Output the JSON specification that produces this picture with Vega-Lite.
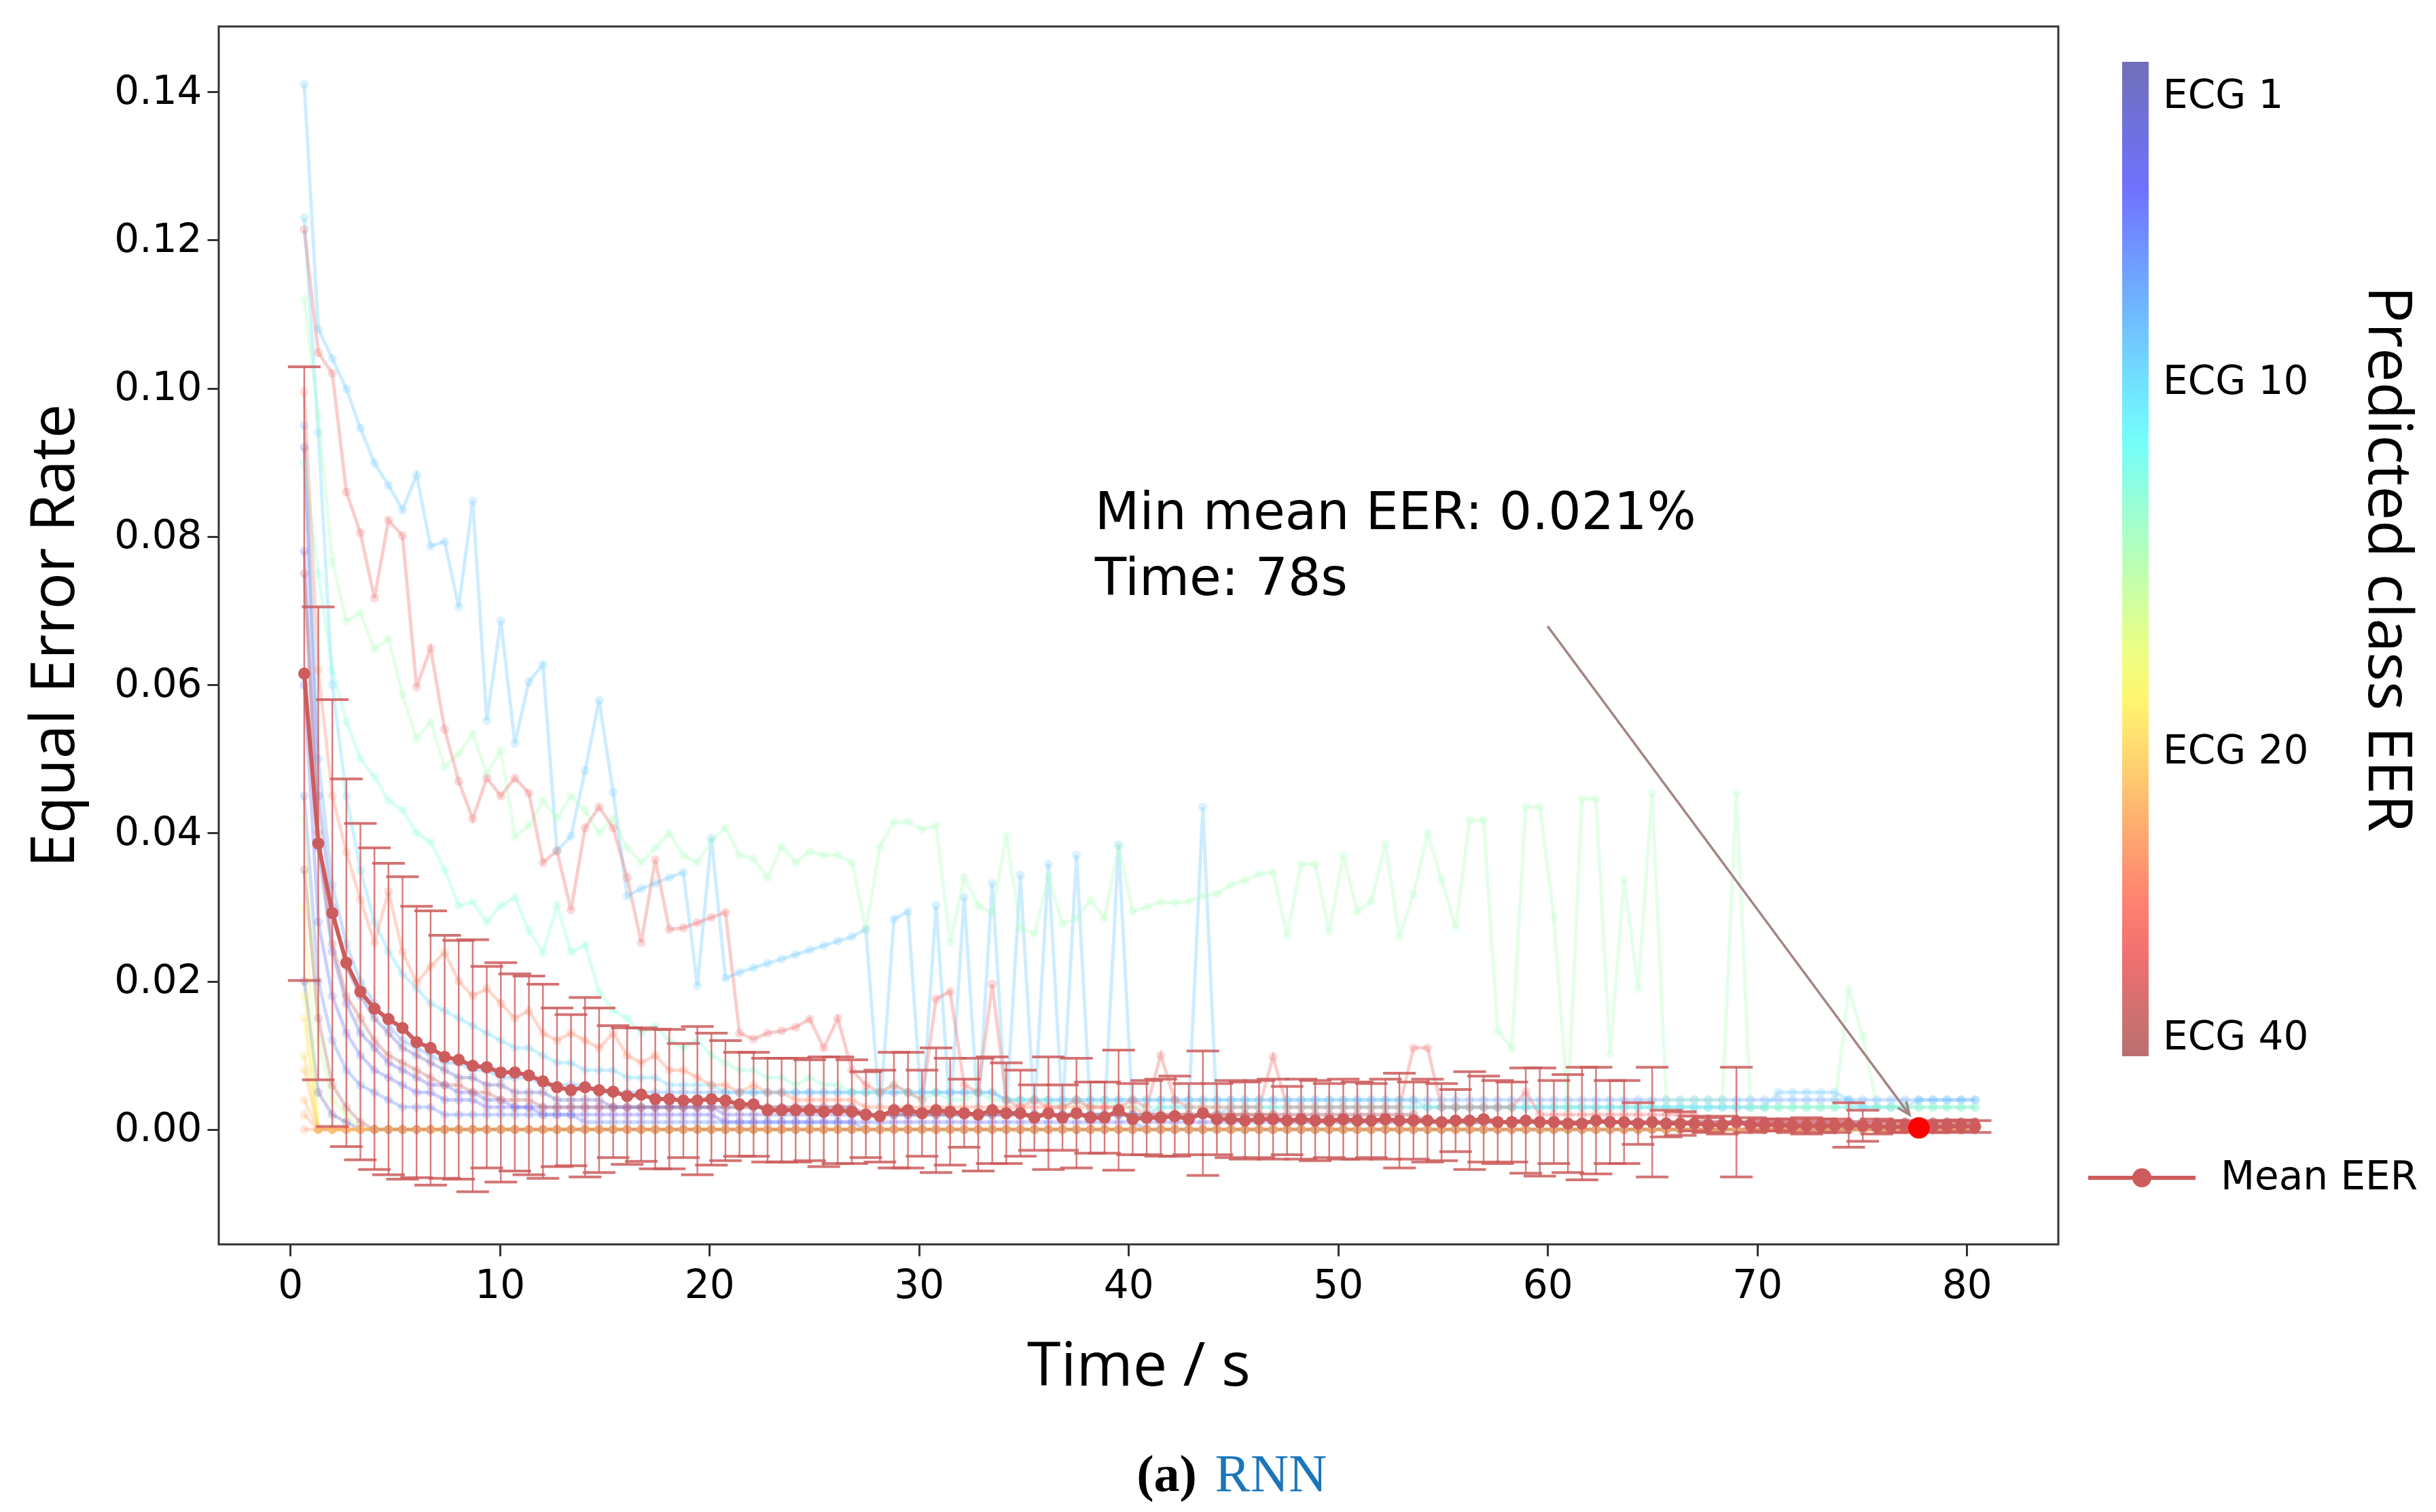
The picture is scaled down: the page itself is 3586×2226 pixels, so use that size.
{
"$schema": "https://vega.github.io/schema/vega-lite/v6.json",
"width": 2708, "height": 1793,
"autosize": {"type": "none"},
"padding": {"left": 322, "top": 39, "right": 556, "bottom": 394},
"background": "white",
"config": {
 "view": {"stroke": "#333333", "strokeWidth": 3},
 "axis": {"grid": false, "domain": false, "tickColor": "#333333", "tickWidth": 3, "tickSize": 17, "labelFont": "DejaVu Sans", "labelFontSize": 58, "labelColor": "black", "titleFont": "Open Sans", "titleFontSize": 90, "titleFontWeight": "normal", "titleColor": "black"}
},
"datasets": {
"ecg": [
{"e":1,"t":[0.67,1.34,2.01,2.68,3.35,4.02,4.69,5.36,6.03,6.7,7.37,8.04,8.71,9.38,10.05,10.72,11.39,12.06,12.73,13.4,14.07,14.74,15.41,16.08,16.75,17.42,18.09,18.76,19.43,20.1,20.77,21.44,22.11,22.78,23.45,24.12,24.79,25.46,26.13,26.8,27.47,28.14,28.81,29.48,30.15,30.82,31.49,32.16,32.83,33.5,34.17,34.84,35.51,36.18,36.85,37.52,38.19,38.86,39.53,40.2,40.87,41.54,42.21,42.88,43.55,44.22,44.89,45.56,46.23,46.9,47.57,48.24,48.91,49.58,50.25,50.92,51.59,52.26,52.93,53.6,54.27,54.94,55.61,56.28,56.95,57.62,58.29,58.96,59.63,60.3,60.97,61.64,62.31,62.98,63.65,64.32,64.99,65.66,66.33,67,67.67,68.34,69.01,69.68,70.35,71.02,71.69,72.36,73.03,73.7,74.37,75.04,75.71,76.38,77.05,77.72,78.39,79.06,79.73,80.4],
 "v":[0.02,0.005,0.002,0.001,0,0,0,0,0,0,0,0,0,0,0,0,0,0,0,0,0,0,0,0,0,0,0,0,0,0,0,0,0,0,0,0,0,0,0,0,0,0,0,0,0,0,0,0,0,0,0,0,0,0,0,0,0,0,0,0,0,0,0,0,0,0,0,0,0,0,0,0,0,0,0,0,0,0,0,0,0,0,0,0,0,0,0,0,0,0,0,0,0,0,0,0,0,0,0,0,0,0,0,0,0,0,0,0,0,0,0,0,0,0,0,0,0,0,0,0]},
{"e":2,"t":[0.67,1.34,2.01,2.68,3.35,4.02,4.69,5.36,6.03,6.7,7.37,8.04,8.71,9.38,10.05,10.72,11.39,12.06,12.73,13.4,14.07,14.74,15.41,16.08,16.75,17.42,18.09,18.76,19.43,20.1,20.77,21.44,22.11,22.78,23.45,24.12,24.79,25.46,26.13,26.8,27.47,28.14,28.81,29.48,30.15,30.82,31.49,32.16,32.83,33.5,34.17,34.84,35.51,36.18,36.85,37.52,38.19,38.86,39.53,40.2,40.87,41.54,42.21,42.88,43.55,44.22,44.89,45.56,46.23,46.9,47.57,48.24,48.91,49.58,50.25,50.92,51.59,52.26,52.93,53.6,54.27,54.94,55.61,56.28,56.95,57.62,58.29,58.96,59.63,60.3,60.97,61.64,62.31,62.98,63.65,64.32,64.99,65.66,66.33,67,67.67,68.34,69.01,69.68,70.35,71.02,71.69,72.36,73.03,73.7,74.37,75.04,75.71,76.38,77.05,77.72,78.39,79.06,79.73,80.4],
 "v":[0.092,0.045,0.03,0.022,0.018,0.015,0.013,0.011,0.01,0.009,0.008,0.007,0.007,0.006,0.006,0.005,0.005,0.005,0.004,0.004,0.004,0.004,0.003,0.003,0.003,0.003,0.003,0.003,0.003,0.003,0.003,0.003,0.003,0.003,0.003,0.003,0.003,0.003,0.003,0.003,0.002,0.002,0.002,0.002,0.002,0.002,0.002,0.002,0.002,0.002,0.002,0.002,0.002,0.002,0.002,0.002,0.002,0.002,0.002,0.002,0.002,0.002,0.002,0.002,0.002,0.002,0.002,0.002,0.002,0.002,0.002,0.002,0.002,0.002,0.002,0.002,0.002,0.002,0.002,0.002,0.001,0.001,0.001,0.001,0.001,0.001,0.001,0.001,0.001,0.001,0.001,0.001,0.001,0.001,0.001,0.001,0.001,0.001,0.001,0.001,0.001,0.001,0.001,0.001,0.001,0.001,0.001,0.001,0.001,0.001,0.001,0.001,0.001,0.001,0.001,0.001,0.001,0.001,0.001,0.001]},
{"e":4,"t":[0.67,1.34,2.01,2.68,3.35,4.02,4.69,5.36,6.03,6.7,7.37,8.04,8.71,9.38,10.05,10.72,11.39,12.06,12.73,13.4,14.07,14.74,15.41,16.08,16.75,17.42,18.09,18.76,19.43,20.1,20.77,21.44,22.11,22.78,23.45,24.12,24.79,25.46,26.13,26.8,27.47,28.14,28.81,29.48,30.15,30.82,31.49,32.16,32.83,33.5,34.17,34.84,35.51,36.18,36.85,37.52,38.19,38.86,39.53,40.2,40.87,41.54,42.21,42.88,43.55,44.22,44.89,45.56,46.23,46.9,47.57,48.24,48.91,49.58,50.25,50.92,51.59,52.26,52.93,53.6,54.27,54.94,55.61,56.28,56.95,57.62,58.29,58.96,59.63,60.3,60.97,61.64,62.31,62.98,63.65,64.32,64.99,65.66,66.33,67,67.67,68.34,69.01,69.68,70.35,71.02,71.69,72.36,73.03,73.7,74.37,75.04,75.71,76.38,77.05,77.72,78.39,79.06,79.73,80.4],
 "v":[0.078,0.038,0.024,0.017,0.013,0.011,0.009,0.008,0.007,0.006,0.006,0.005,0.005,0.004,0.004,0.003,0.003,0.003,0.003,0.003,0.003,0.003,0.003,0.003,0.003,0.003,0.003,0.003,0.003,0.003,0.002,0.002,0.002,0.002,0.002,0.002,0.002,0.002,0.002,0.002,0.002,0.002,0.002,0.002,0.002,0.002,0.002,0.002,0.002,0.002,0.002,0.002,0.002,0.002,0.002,0.002,0.002,0.002,0.002,0.002,0.001,0.001,0.001,0.001,0.001,0.001,0.001,0.001,0.001,0.001,0.001,0.001,0.001,0.001,0.001,0.001,0.001,0.001,0.001,0.001,0.001,0.001,0.001,0.001,0.001,0.001,0.001,0.001,0.001,0.001,0.001,0.001,0.001,0.001,0.001,0.001,0.001,0.001,0.001,0.001,0.001,0.001,0.001,0.001,0.001,0.001,0.001,0.001,0.001,0.001,0.001,0.001,0.001,0.001,0.001,0.001,0.001,0.001,0.001,0.001]},
{"e":6,"t":[0.67,1.34,2.01,2.68,3.35,4.02,4.69,5.36,6.03,6.7,7.37,8.04,8.71,9.38,10.05,10.72,11.39,12.06,12.73,13.4,14.07,14.74,15.41,16.08,16.75,17.42,18.09,18.76,19.43,20.1,20.77,21.44,22.11,22.78,23.45,24.12,24.79,25.46,26.13,26.8,27.47,28.14,28.81,29.48,30.15,30.82,31.49,32.16,32.83,33.5,34.17,34.84,35.51,36.18,36.85,37.52,38.19,38.86,39.53,40.2,40.87,41.54,42.21,42.88,43.55,44.22,44.89,45.56,46.23,46.9,47.57,48.24,48.91,49.58,50.25,50.92,51.59,52.26,52.93,53.6,54.27,54.94,55.61,56.28,56.95,57.62,58.29,58.96,59.63,60.3,60.97,61.64,62.31,62.98,63.65,64.32,64.99,65.66,66.33,67,67.67,68.34,69.01,69.68,70.35,71.02,71.69,72.36,73.03,73.7,74.37,75.04,75.71,76.38,77.05,77.72,78.39,79.06,79.73,80.4],
 "v":[0.06,0.028,0.018,0.013,0.01,0.008,0.007,0.006,0.005,0.005,0.004,0.004,0.004,0.003,0.003,0.003,0.003,0.002,0.002,0.002,0.002,0.002,0.002,0.002,0.002,0.002,0.002,0.002,0.002,0.002,0.001,0.001,0.001,0.001,0.001,0.001,0.001,0.001,0.001,0.001,0.001,0.001,0.001,0.001,0.001,0.001,0.001,0.001,0.001,0.001,0.001,0.001,0.001,0.001,0.001,0.001,0.001,0.001,0.001,0.001,0,0,0,0,0,0,0,0,0,0,0,0,0,0,0,0,0,0,0,0,0,0,0,0,0,0,0,0,0,0,0,0,0,0,0,0,0,0,0,0,0,0,0,0,0,0,0,0,0,0,0,0,0,0,0,0,0,0,0,0]},
{"e":8,"t":[0.67,1.34,2.01,2.68,3.35,4.02,4.69,5.36,6.03,6.7,7.37,8.04,8.71,9.38,10.05,10.72,11.39,12.06,12.73,13.4,14.07,14.74,15.41,16.08,16.75,17.42,18.09,18.76,19.43,20.1,20.77,21.44,22.11,22.78,23.45,24.12,24.79,25.46,26.13,26.8,27.47,28.14,28.81,29.48,30.15,30.82,31.49,32.16,32.83,33.5,34.17,34.84,35.51,36.18,36.85,37.52,38.19,38.86,39.53,40.2,40.87,41.54,42.21,42.88,43.55,44.22,44.89,45.56,46.23,46.9,47.57,48.24,48.91,49.58,50.25,50.92,51.59,52.26,52.93,53.6,54.27,54.94,55.61,56.28,56.95,57.62,58.29,58.96,59.63,60.3,60.97,61.64,62.31,62.98,63.65,64.32,64.99,65.66,66.33,67,67.67,68.34,69.01,69.68,70.35,71.02,71.69,72.36,73.03,73.7,74.37,75.04,75.71,76.38,77.05,77.72,78.39,79.06,79.73,80.4],
 "v":[0.045,0.02,0.012,0.008,0.006,0.005,0.004,0.003,0.003,0.003,0.002,0.002,0.002,0.002,0.002,0.002,0.002,0.002,0.002,0.002,0.001,0.001,0.001,0.001,0.001,0.001,0.001,0.001,0.001,0.001,0.001,0.001,0.001,0.001,0.001,0.001,0.001,0.001,0.001,0.001,0,0,0,0,0,0,0,0,0,0,0,0,0,0,0,0,0,0,0,0,0,0,0,0,0,0,0,0,0,0,0,0,0,0,0,0,0,0,0,0,0,0,0,0,0,0,0,0,0,0,0,0,0,0,0,0,0,0,0,0,0,0,0,0,0,0,0,0,0,0,0,0,0,0,0,0,0,0,0,0]},
{"e":10,"t":[0.67,1.34,2.01,2.68,3.35,4.02,4.69,5.36,6.03,6.7,7.37,8.04,8.71,9.38,10.05,10.72,11.39,12.06,12.73,13.4,14.07,14.74,15.41,16.08,16.75,17.42,18.09,18.76,19.43,20.1,20.77,21.44,22.11,22.78,23.45,24.12,24.79,25.46,26.13,26.8,27.47,28.14,28.81,29.48,30.15,30.82,31.49,32.16,32.83,33.5,34.17,34.84,35.51,36.18,36.85,37.52,38.19,38.86,39.53,40.2,40.87,41.54,42.21,42.88,43.55,44.22,44.89,45.56,46.23,46.9,47.57,48.24,48.91,49.58,50.25,50.92,51.59,52.26,52.93,53.6,54.27,54.94,55.61,56.28,56.95,57.62,58.29,58.96,59.63,60.3,60.97,61.64,62.31,62.98,63.65,64.32,64.99,65.66,66.33,67,67.67,68.34,69.01,69.68,70.35,71.02,71.69,72.36,73.03,73.7,74.37,75.04,75.71,76.38,77.05,77.72,78.39,79.06,79.73,80.4],
 "v":[0.095,0.05,0.033,0.025,0.02,0.017,0.014,0.012,0.011,0.01,0.009,0.009,0.008,0.008,0.007,0.007,0.007,0.006,0.006,0.006,0.006,0.005,0.005,0.005,0.005,0.005,0.005,0.005,0.005,0.005,0.005,0.005,0.005,0.005,0.005,0.005,0.005,0.005,0.005,0.005,0.005,0.005,0.005,0.005,0.005,0.005,0.005,0.005,0.005,0.005,0.004,0.004,0.004,0.004,0.004,0.004,0.004,0.004,0.004,0.004,0.004,0.004,0.004,0.004,0.004,0.004,0.004,0.004,0.004,0.004,0.004,0.004,0.004,0.004,0.004,0.004,0.004,0.004,0.004,0.004,0.004,0.004,0.004,0.004,0.004,0.004,0.004,0.004,0.004,0.004,0.004,0.004,0.004,0.004,0.004,0.004,0.004,0.004,0.004,0.004,0.004,0.004,0.004,0.004,0.004,0.004,0.004,0.004,0.004,0.004,0.004,0.004,0.004,0.004,0.004,0.004,0.004,0.004,0.004,0.004]},
{"e":12,"t":[0.67,1.34,2.01,2.68,3.35,4.02,4.69,5.36,6.03,6.7,7.37,8.04,8.71,9.38,10.05,10.72,11.39,12.06,12.73,13.4,14.07,14.74,15.41,16.08,16.75,17.42,18.09,18.76,19.43,20.1,20.77,21.44,22.11,22.78,23.45,24.12,24.79,25.46,26.13,26.8,27.47,28.14,28.81,29.48,30.15,30.82,31.49,32.16,32.83,33.5,34.17,34.84,35.51,36.18,36.85,37.52,38.19,38.86,39.53,40.2,40.87,41.54,42.21,42.88,43.55,44.22,44.89,45.56,46.23,46.9,47.57,48.24,48.91,49.58,50.25,50.92,51.59,52.26,52.93,53.6,54.27,54.94,55.61,56.28,56.95,57.62,58.29,58.96,59.63,60.3,60.97,61.64,62.31,62.98,63.65,64.32,64.99,65.66,66.33,67,67.67,68.34,69.01,69.68,70.35,71.02,71.69,72.36,73.03,73.7,74.37,75.04,75.71,76.38,77.05,77.72,78.39,79.06,79.73,80.4],
 "v":[0.141,0.108,0.104,0.0999,0.0946,0.0899,0.0869,0.0836,0.0883,0.0787,0.0793,0.0705,0.0848,0.0552,0.0686,0.0521,0.0604,0.0627,0.0376,0.0396,0.0484,0.0579,0.0455,0.0315,0.0325,0.0332,0.034,0.0347,0.0194,0.0393,0.0204,0.0212,0.0218,0.0224,0.023,0.0236,0.0242,0.0248,0.0254,0.026,0.027,0.002,0.0284,0.0294,0.002,0.0302,0.002,0.0313,0.002,0.0332,0.002,0.0343,0.002,0.0358,0.002,0.037,0.002,0.002,0.0384,0.002,0.002,0.003,0.003,0.003,0.0435,0.002,0.003,0.003,0.003,0.003,0.003,0.003,0.003,0.003,0.003,0.003,0.003,0.003,0.003,0.003,0.003,0.003,0.003,0.003,0.003,0.003,0.003,0.003,0.003,0.003,0.003,0.003,0.003,0.003,0.003,0.003,0.003,0.003,0.003,0.003,0.003,0.003,0.003,0.003,0.003,0.005,0.005,0.005,0.005,0.005,0.004,0.003,0.003,0.003,0.003,0.004,0.004,0.004,0.004,0.004]},
{"e":13,"t":[0.67,1.34,2.01,2.68,3.35,4.02,4.69,5.36,6.03,6.7,7.37,8.04,8.71,9.38,10.05,10.72,11.39,12.06,12.73,13.4,14.07,14.74,15.41,16.08,16.75,17.42,18.09,18.76,19.43,20.1,20.77,21.44,22.11,22.78,23.45,24.12,24.79,25.46,26.13,26.8,27.47,28.14,28.81,29.48,30.15,30.82,31.49,32.16,32.83,33.5,34.17,34.84,35.51,36.18,36.85,37.52,38.19,38.86,39.53,40.2,40.87,41.54,42.21,42.88,43.55,44.22,44.89,45.56,46.23,46.9,47.57,48.24,48.91,49.58,50.25,50.92,51.59,52.26,52.93,53.6,54.27,54.94,55.61,56.28,56.95,57.62,58.29,58.96,59.63,60.3,60.97,61.64,62.31,62.98,63.65,64.32,64.99,65.66,66.33,67,67.67,68.34,69.01,69.68,70.35,71.02,71.69,72.36,73.03,73.7,74.37,75.04,75.71,76.38,77.05,77.72,78.39,79.06,79.73,80.4],
 "v":[0.123,0.094,0.06,0.045,0.035,0.028,0.024,0.021,0.019,0.017,0.016,0.015,0.014,0.013,0.012,0.011,0.011,0.01,0.009,0.009,0.008,0.008,0.008,0.007,0.007,0.007,0.006,0.006,0.006,0.006,0.005,0.005,0.005,0.005,0.005,0.005,0.005,0.005,0.005,0.005,0.005,0.005,0.005,0.005,0.005,0.005,0.005,0.005,0.005,0.005,0.004,0.004,0.004,0.004,0.004,0.004,0.004,0.004,0.004,0.004,0.004,0.004,0.004,0.004,0.004,0.004,0.004,0.004,0.004,0.004,0.004,0.004,0.004,0.004,0.004,0.004,0.004,0.004,0.004,0.004,0.003,0.003,0.003,0.003,0.003,0.003,0.003,0.003,0.003,0.003,0.003,0.003,0.003,0.003,0.003,0.003,0.003,0.003,0.003,0.003,0.003,0.003,0.003,0.003,0.003,0.003,0.003,0.003,0.003,0.003,0.003,0.003,0.003,0.003,0.003,0.003,0.003,0.003,0.003,0.003]},
{"e":18,"t":[0.67,1.34,2.01,2.68,3.35,4.02,4.69,5.36,6.03,6.7,7.37,8.04,8.71,9.38,10.05,10.72,11.39,12.06,12.73,13.4,14.07,14.74,15.41,16.08,16.75,17.42,18.09,18.76,19.43,20.1,20.77,21.44,22.11,22.78,23.45,24.12,24.79,25.46,26.13,26.8,27.47,28.14,28.81,29.48,30.15,30.82,31.49,32.16,32.83,33.5,34.17,34.84,35.51,36.18,36.85,37.52,38.19,38.86,39.53,40.2,40.87,41.54,42.21,42.88,43.55,44.22,44.89,45.56,46.23,46.9,47.57,48.24,48.91,49.58,50.25,50.92,51.59,52.26,52.93,53.6,54.27,54.94,55.61,56.28,56.95,57.62,58.29,58.96,59.63,60.3,60.97,61.64,62.31,62.98,63.65,64.32,64.99,65.66,66.33,67,67.67,68.34,69.01,69.68,70.35,71.02,71.69,72.36,73.03,73.7,74.37,75.04,75.71,76.38,77.05,77.72,78.39,79.06,79.73,80.4],
 "v":[0.09,0.075,0.062,0.055,0.05,0.0476,0.0444,0.0431,0.04,0.0388,0.035,0.0302,0.0307,0.028,0.0302,0.0313,0.0268,0.0239,0.0302,0.0239,0.0249,0.0186,0.016,0.015,0.013,0.014,0.012,0.011,0.012,0.01,0.009,0.008,0.008,0.007,0.007,0.006,0.007,0.006,0.006,0.005,0.005,0.005,0.006,0.005,0.004,0.005,0.004,0.004,0.005,0.004,0.004,0.004,0.004,0.004,0.003,0.004,0.003,0.004,0.003,0.003,0.003,0.003,0.003,0.003,0.003,0.003,0.003,0.003,0.003,0.003,0.003,0.003,0.003,0.003,0.003,0.003,0.003,0.003,0.003,0.003,0.003,0.003,0.003,0.003,0.003,0.003,0.003,0.003,0.003,0.003,0.003,0.003,0.003,0.003,0.003,0.003,0.003,0.003,0.003,0.003,0.003,0.003,0.003,0.003,0.003,0.003,0.003,0.003,0.003,0.003,0.003,0.003,0.003,0.003,0.003,0.003,0.003,0.003,0.003,0.003]},
{"e":20,"t":[0.67,1.34,2.01,2.68,3.35,4.02,4.69,5.36,6.03,6.7,7.37,8.04,8.71,9.38,10.05,10.72,11.39,12.06,12.73,13.4,14.07,14.74,15.41,16.08,16.75,17.42,18.09,18.76,19.43,20.1,20.77,21.44,22.11,22.78,23.45,24.12,24.79,25.46,26.13,26.8,27.47,28.14,28.81,29.48,30.15,30.82,31.49,32.16,32.83,33.5,34.17,34.84,35.51,36.18,36.85,37.52,38.19,38.86,39.53,40.2,40.87,41.54,42.21,42.88,43.55,44.22,44.89,45.56,46.23,46.9,47.57,48.24,48.91,49.58,50.25,50.92,51.59,52.26,52.93,53.6,54.27,54.94,55.61,56.28,56.95,57.62,58.29,58.96,59.63,60.3,60.97,61.64,62.31,62.98,63.65,64.32,64.99,65.66,66.33,67,67.67,68.34,69.01,69.68,70.35,71.02,71.69,72.36,73.03,73.7,74.37,75.04,75.71,76.38,77.05,77.72,78.39,79.06,79.73,80.4],
 "v":[0.112,0.0963,0.0766,0.0686,0.0697,0.0648,0.0662,0.0587,0.0527,0.055,0.0489,0.0507,0.0534,0.048,0.0511,0.0395,0.041,0.0444,0.042,0.045,0.043,0.04,0.042,0.038,0.036,0.038,0.04,0.037,0.036,0.039,0.0407,0.037,0.0365,0.034,0.0382,0.036,0.0375,0.037,0.037,0.036,0.027,0.0382,0.0415,0.0415,0.0405,0.041,0.0252,0.034,0.0302,0.0292,0.0396,0.0272,0.0264,0.0341,0.0277,0.0285,0.0309,0.0285,0.0382,0.0294,0.03,0.0307,0.0306,0.0308,0.0315,0.0318,0.033,0.0336,0.0345,0.0347,0.0262,0.0358,0.0358,0.0267,0.037,0.0294,0.0308,0.0385,0.026,0.0317,0.0399,0.0337,0.0272,0.0417,0.0417,0.0133,0.011,0.0435,0.0435,0.0286,0.003,0.0446,0.0446,0.0102,0.0337,0.019,0.0454,0.004,0.004,0.004,0.004,0.004,0.0454,0.003,0.003,0.003,0.003,0.003,0.003,0.003,0.019,0.0126,0.003,0.003,0.003,0.003,0.003,0.003,0.003,0.003]},
{"e":22,"t":[0.67,1.34,2.01,2.68,3.35,4.02,4.69,5.36,6.03,6.7,7.37,8.04,8.71,9.38,10.05,10.72,11.39,12.06,12.73,13.4,14.07,14.74,15.41,16.08,16.75,17.42,18.09,18.76,19.43,20.1,20.77,21.44,22.11,22.78,23.45,24.12,24.79,25.46,26.13,26.8,27.47,28.14,28.81,29.48,30.15,30.82,31.49,32.16,32.83,33.5,34.17,34.84,35.51,36.18,36.85,37.52,38.19,38.86,39.53,40.2,40.87,41.54,42.21,42.88,43.55,44.22,44.89,45.56,46.23,46.9,47.57,48.24,48.91,49.58,50.25,50.92,51.59,52.26,52.93,53.6,54.27,54.94,55.61,56.28,56.95,57.62,58.29,58.96,59.63,60.3,60.97,61.64,62.31,62.98,63.65,64.32,64.99,65.66,66.33,67,67.67,68.34,69.01,69.68,70.35,71.02,71.69,72.36,73.03,73.7,74.37,75.04,75.71,76.38,77.05,77.72,78.39,79.06,79.73,80.4],
 "v":[0.042,0.012,0.004,0.002,0,0,0,0,0,0,0,0,0,0,0,0,0,0,0,0,0,0,0,0,0,0,0,0,0,0,0,0,0,0,0,0,0,0,0,0,0,0,0,0,0,0,0,0,0,0,0,0,0,0,0,0,0,0,0,0,0,0,0,0,0,0,0,0,0,0,0,0,0,0,0,0,0,0,0,0,0,0,0,0,0,0,0,0,0,0,0,0,0,0,0,0,0,0,0,0,0,0,0,0,0,0,0,0,0,0,0,0,0,0,0,0,0,0,0,0]},
{"e":24,"t":[0.67,1.34,2.01,2.68,3.35,4.02,4.69,5.36,6.03,6.7,7.37,8.04,8.71,9.38,10.05,10.72,11.39,12.06,12.73,13.4,14.07,14.74,15.41,16.08,16.75,17.42,18.09,18.76,19.43,20.1,20.77,21.44,22.11,22.78,23.45,24.12,24.79,25.46,26.13,26.8,27.47,28.14,28.81,29.48,30.15,30.82,31.49,32.16,32.83,33.5,34.17,34.84,35.51,36.18,36.85,37.52,38.19,38.86,39.53,40.2,40.87,41.54,42.21,42.88,43.55,44.22,44.89,45.56,46.23,46.9,47.57,48.24,48.91,49.58,50.25,50.92,51.59,52.26,52.93,53.6,54.27,54.94,55.61,56.28,56.95,57.62,58.29,58.96,59.63,60.3,60.97,61.64,62.31,62.98,63.65,64.32,64.99,65.66,66.33,67,67.67,68.34,69.01,69.68,70.35,71.02,71.69,72.36,73.03,73.7,74.37,75.04,75.71,76.38,77.05,77.72,78.39,79.06,79.73,80.4],
 "v":[0.03,0,0,0,0,0,0,0,0,0,0,0,0,0,0,0,0,0,0,0,0,0,0,0,0,0,0,0,0,0,0,0,0,0,0,0,0,0,0,0,0,0,0,0,0,0,0,0,0,0,0,0,0,0,0,0,0,0,0,0,0,0,0,0,0,0,0,0,0,0,0,0,0,0,0,0,0,0,0,0,0,0,0,0,0,0,0,0,0,0,0,0,0,0,0,0,0,0,0,0,0,0,0,0,0,0,0,0,0,0,0,0,0,0,0,0,0,0,0,0]},
{"e":26,"t":[0.67,1.34,2.01,2.68,3.35,4.02,4.69,5.36,6.03,6.7,7.37,8.04,8.71,9.38,10.05,10.72,11.39,12.06,12.73,13.4,14.07,14.74,15.41,16.08,16.75,17.42,18.09,18.76,19.43,20.1,20.77,21.44,22.11,22.78,23.45,24.12,24.79,25.46,26.13,26.8,27.47,28.14,28.81,29.48,30.15,30.82,31.49,32.16,32.83,33.5,34.17,34.84,35.51,36.18,36.85,37.52,38.19,38.86,39.53,40.2,40.87,41.54,42.21,42.88,43.55,44.22,44.89,45.56,46.23,46.9,47.57,48.24,48.91,49.58,50.25,50.92,51.59,52.26,52.93,53.6,54.27,54.94,55.61,56.28,56.95,57.62,58.29,58.96,59.63,60.3,60.97,61.64,62.31,62.98,63.65,64.32,64.99,65.66,66.33,67,67.67,68.34,69.01,69.68,70.35,71.02,71.69,72.36,73.03,73.7,74.37,75.04,75.71,76.38,77.05,77.72,78.39,79.06,79.73,80.4],
 "v":[0.018,0,0,0,0,0,0,0,0,0,0,0,0,0,0,0,0,0,0,0,0,0,0,0,0,0,0,0,0,0,0,0,0,0,0,0,0,0,0,0,0,0,0,0,0,0,0,0,0,0,0,0,0,0,0,0,0,0,0,0,0,0,0,0,0,0,0,0,0,0,0,0,0,0,0,0,0,0,0,0,0,0,0,0,0,0,0,0,0,0,0,0,0,0,0,0,0,0,0,0,0,0,0,0,0,0,0,0,0,0,0,0,0,0,0,0,0,0,0,0]},
{"e":27,"t":[0.67,1.34,2.01,2.68,3.35,4.02,4.69,5.36,6.03,6.7,7.37,8.04,8.71,9.38,10.05,10.72,11.39,12.06,12.73,13.4,14.07,14.74,15.41,16.08,16.75,17.42,18.09,18.76,19.43,20.1,20.77,21.44,22.11,22.78,23.45,24.12,24.79,25.46,26.13,26.8,27.47,28.14,28.81,29.48,30.15,30.82,31.49,32.16,32.83,33.5,34.17,34.84,35.51,36.18,36.85,37.52,38.19,38.86,39.53,40.2,40.87,41.54,42.21,42.88,43.55,44.22,44.89,45.56,46.23,46.9,47.57,48.24,48.91,49.58,50.25,50.92,51.59,52.26,52.93,53.6,54.27,54.94,55.61,56.28,56.95,57.62,58.29,58.96,59.63,60.3,60.97,61.64,62.31,62.98,63.65,64.32,64.99,65.66,66.33,67,67.67,68.34,69.01,69.68,70.35,71.02,71.69,72.36,73.03,73.7,74.37,75.04,75.71,76.38,77.05,77.72,78.39,79.06,79.73,80.4],
 "v":[0.015,0,0,0,0,0,0,0,0,0,0,0,0,0,0,0,0,0,0,0,0,0,0,0,0,0,0,0,0,0,0,0,0,0,0,0,0,0,0,0,0,0,0,0,0,0,0,0,0,0,0,0,0,0,0,0,0,0,0,0,0,0,0,0,0,0,0,0,0,0,0,0,0,0,0,0,0,0,0,0,0,0,0,0,0,0,0,0,0,0,0,0,0,0,0,0,0,0,0,0,0,0,0,0,0,0,0,0,0,0,0,0,0,0,0,0,0,0,0,0]},
{"e":28,"t":[0.67,1.34,2.01,2.68,3.35,4.02,4.69,5.36,6.03,6.7,7.37,8.04,8.71,9.38,10.05,10.72,11.39,12.06,12.73,13.4,14.07,14.74,15.41,16.08,16.75,17.42,18.09,18.76,19.43,20.1,20.77,21.44,22.11,22.78,23.45,24.12,24.79,25.46,26.13,26.8,27.47,28.14,28.81,29.48,30.15,30.82,31.49,32.16,32.83,33.5,34.17,34.84,35.51,36.18,36.85,37.52,38.19,38.86,39.53,40.2,40.87,41.54,42.21,42.88,43.55,44.22,44.89,45.56,46.23,46.9,47.57,48.24,48.91,49.58,50.25,50.92,51.59,52.26,52.93,53.6,54.27,54.94,55.61,56.28,56.95,57.62,58.29,58.96,59.63,60.3,60.97,61.64,62.31,62.98,63.65,64.32,64.99,65.66,66.33,67,67.67,68.34,69.01,69.68,70.35,71.02,71.69,72.36,73.03,73.7,74.37,75.04,75.71,76.38,77.05,77.72,78.39,79.06,79.73,80.4],
 "v":[0.01,0,0,0,0,0,0,0,0,0,0,0,0,0,0,0,0,0,0,0,0,0,0,0,0,0,0,0,0,0,0,0,0,0,0,0,0,0,0,0,0,0,0,0,0,0,0,0,0,0,0,0,0,0,0,0,0,0,0,0,0,0,0,0,0,0,0,0,0,0,0,0,0,0,0,0,0,0,0,0,0,0,0,0,0,0,0,0,0,0,0,0,0,0,0,0,0,0,0,0,0,0,0,0,0,0,0,0,0,0,0,0,0,0,0,0,0,0,0,0]},
{"e":29,"t":[0.67,1.34,2.01,2.68,3.35,4.02,4.69,5.36,6.03,6.7,7.37,8.04,8.71,9.38,10.05,10.72,11.39,12.06,12.73,13.4,14.07,14.74,15.41,16.08,16.75,17.42,18.09,18.76,19.43,20.1,20.77,21.44,22.11,22.78,23.45,24.12,24.79,25.46,26.13,26.8,27.47,28.14,28.81,29.48,30.15,30.82,31.49,32.16,32.83,33.5,34.17,34.84,35.51,36.18,36.85,37.52,38.19,38.86,39.53,40.2,40.87,41.54,42.21,42.88,43.55,44.22,44.89,45.56,46.23,46.9,47.57,48.24,48.91,49.58,50.25,50.92,51.59,52.26,52.93,53.6,54.27,54.94,55.61,56.28,56.95,57.62,58.29,58.96,59.63,60.3,60.97,61.64,62.31,62.98,63.65,64.32,64.99,65.66,66.33,67,67.67,68.34,69.01,69.68,70.35,71.02,71.69,72.36,73.03,73.7,74.37,75.04,75.71,76.38,77.05,77.72,78.39,79.06,79.73,80.4],
 "v":[0.008,0,0,0,0,0,0,0,0,0,0,0,0,0,0,0,0,0,0,0,0,0,0,0,0,0,0,0,0,0,0,0,0,0,0,0,0,0,0,0,0,0,0,0,0,0,0,0,0,0,0,0,0,0,0,0,0,0,0,0,0,0,0,0,0,0,0,0,0,0,0,0,0,0,0,0,0,0,0,0,0,0,0,0,0,0,0,0,0,0,0,0,0,0,0,0,0,0,0,0,0,0,0,0,0,0,0,0,0,0,0,0,0,0,0,0,0,0,0,0]},
{"e":30,"t":[0.67,1.34,2.01,2.68,3.35,4.02,4.69,5.36,6.03,6.7,7.37,8.04,8.71,9.38,10.05,10.72,11.39,12.06,12.73,13.4,14.07,14.74,15.41,16.08,16.75,17.42,18.09,18.76,19.43,20.1,20.77,21.44,22.11,22.78,23.45,24.12,24.79,25.46,26.13,26.8,27.47,28.14,28.81,29.48,30.15,30.82,31.49,32.16,32.83,33.5,34.17,34.84,35.51,36.18,36.85,37.52,38.19,38.86,39.53,40.2,40.87,41.54,42.21,42.88,43.55,44.22,44.89,45.56,46.23,46.9,47.57,48.24,48.91,49.58,50.25,50.92,51.59,52.26,52.93,53.6,54.27,54.94,55.61,56.28,56.95,57.62,58.29,58.96,59.63,60.3,60.97,61.64,62.31,62.98,63.65,64.32,64.99,65.66,66.33,67,67.67,68.34,69.01,69.68,70.35,71.02,71.69,72.36,73.03,73.7,74.37,75.04,75.71,76.38,77.05,77.72,78.39,79.06,79.73,80.4],
 "v":[0.004,0,0,0,0,0,0,0,0,0,0,0,0,0,0,0,0,0,0,0,0,0,0,0,0,0,0,0,0,0,0,0,0,0,0,0,0,0,0,0,0,0,0,0,0,0,0,0,0,0,0,0,0,0,0,0,0,0,0,0,0,0,0,0,0,0,0,0,0,0,0,0,0,0,0,0,0,0,0,0,0,0,0,0,0,0,0,0,0,0,0,0,0,0,0,0,0,0,0,0,0,0,0,0,0,0,0,0,0,0,0,0,0,0,0,0,0,0,0,0]},
{"e":31,"t":[0.67,1.34,2.01,2.68,3.35,4.02,4.69,5.36,6.03,6.7,7.37,8.04,8.71,9.38,10.05,10.72,11.39,12.06,12.73,13.4,14.07,14.74,15.41,16.08,16.75,17.42,18.09,18.76,19.43,20.1,20.77,21.44,22.11,22.78,23.45,24.12,24.79,25.46,26.13,26.8,27.47,28.14,28.81,29.48,30.15,30.82,31.49,32.16,32.83,33.5,34.17,34.84,35.51,36.18,36.85,37.52,38.19,38.86,39.53,40.2,40.87,41.54,42.21,42.88,43.55,44.22,44.89,45.56,46.23,46.9,47.57,48.24,48.91,49.58,50.25,50.92,51.59,52.26,52.93,53.6,54.27,54.94,55.61,56.28,56.95,57.62,58.29,58.96,59.63,60.3,60.97,61.64,62.31,62.98,63.65,64.32,64.99,65.66,66.33,67,67.67,68.34,69.01,69.68,70.35,71.02,71.69,72.36,73.03,73.7,74.37,75.04,75.71,76.38,77.05,77.72,78.39,79.06,79.73,80.4],
 "v":[0.002,0,0,0,0,0,0,0,0,0,0,0,0,0,0,0,0,0,0,0,0,0,0,0,0,0,0,0,0,0,0,0,0,0,0,0,0,0,0,0,0,0,0,0,0,0,0,0,0,0,0,0,0,0,0,0,0,0,0,0,0,0,0,0,0,0,0,0,0,0,0,0,0,0,0,0,0,0,0,0,0,0,0,0,0,0,0,0,0,0,0,0,0,0,0,0,0,0,0,0,0,0,0,0,0,0,0,0,0,0,0,0,0,0,0,0,0,0,0,0]},
{"e":32,"t":[0.67,1.34,2.01,2.68,3.35,4.02,4.69,5.36,6.03,6.7,7.37,8.04,8.71,9.38,10.05,10.72,11.39,12.06,12.73,13.4,14.07,14.74,15.41,16.08,16.75,17.42,18.09,18.76,19.43,20.1,20.77,21.44,22.11,22.78,23.45,24.12,24.79,25.46,26.13,26.8,27.47,28.14,28.81,29.48,30.15,30.82,31.49,32.16,32.83,33.5,34.17,34.84,35.51,36.18,36.85,37.52,38.19,38.86,39.53,40.2,40.87,41.54,42.21,42.88,43.55,44.22,44.89,45.56,46.23,46.9,47.57,48.24,48.91,49.58,50.25,50.92,51.59,52.26,52.93,53.6,54.27,54.94,55.61,56.28,56.95,57.62,58.29,58.96,59.63,60.3,60.97,61.64,62.31,62.98,63.65,64.32,64.99,65.66,66.33,67,67.67,68.34,69.01,69.68,70.35,71.02,71.69,72.36,73.03,73.7,74.37,75.04,75.71,76.38,77.05,77.72,78.39,79.06,79.73,80.4],
 "v":[0,0,0,0,0,0,0,0,0,0,0,0,0,0,0,0,0,0,0,0,0,0,0,0,0,0,0,0,0,0,0,0,0,0,0,0,0,0,0,0,0,0,0,0,0,0,0,0,0,0,0,0,0,0,0,0,0,0,0,0,0,0,0,0,0,0,0,0,0,0,0,0,0,0,0,0,0,0,0,0,0,0,0,0,0,0,0,0,0,0,0,0,0,0,0,0,0,0,0,0,0,0,0,0,0,0,0,0,0,0,0,0,0,0,0,0,0,0,0,0]},
{"e":33,"t":[0.67,1.34,2.01,2.68,3.35,4.02,4.69,5.36,6.03,6.7,7.37,8.04,8.71,9.38,10.05,10.72,11.39,12.06,12.73,13.4,14.07,14.74,15.41,16.08,16.75,17.42,18.09,18.76,19.43,20.1,20.77,21.44,22.11,22.78,23.45,24.12,24.79,25.46,26.13,26.8,27.47,28.14,28.81,29.48,30.15,30.82,31.49,32.16,32.83,33.5,34.17,34.84,35.51,36.18,36.85,37.52,38.19,38.86,39.53,40.2,40.87,41.54,42.21,42.88,43.55,44.22,44.89,45.56,46.23,46.9,47.57,48.24,48.91,49.58,50.25,50.92,51.59,52.26,52.93,53.6,54.27,54.94,55.61,56.28,56.95,57.62,58.29,58.96,59.63,60.3,60.97,61.64,62.31,62.98,63.65,64.32,64.99,65.66,66.33,67,67.67,68.34,69.01,69.68,70.35,71.02,71.69,72.36,73.03,73.7,74.37,75.04,75.71,76.38,77.05,77.72,78.39,79.06,79.73,80.4],
 "v":[0.0995,0.062,0.045,0.0374,0.031,0.0252,0.0321,0.024,0.0198,0.022,0.0239,0.02,0.018,0.019,0.017,0.015,0.016,0.013,0.012,0.013,0.012,0.011,0.013,0.01,0.009,0.01,0.008,0.008,0.007,0.006,0.006,0.005,0.006,0.005,0.005,0.004,0.004,0.004,0.004,0.004,0.003,0.003,0.003,0.003,0.003,0.003,0.003,0.003,0.003,0.003,0.003,0.003,0.003,0.003,0.003,0.003,0.003,0.003,0.003,0.003,0.002,0.002,0.002,0.002,0.002,0.002,0.002,0.002,0.002,0.002,0.002,0.002,0.002,0.002,0.002,0.002,0.002,0.002,0.002,0.002,0.001,0.001,0.001,0.001,0.001,0.001,0.001,0.001,0.001,0.001,0.001,0.001,0.001,0.001,0.001,0.001,0.001,0.001,0.001,0.001,0.001,0.001,0.001,0.001,0.001,0.001,0.001,0.001,0.001,0.001,0.001,0.001,0.001,0.001,0.001,0.001,0.001,0.001,0.001,0.001]},
{"e":36,"t":[0.67,1.34,2.01,2.68,3.35,4.02,4.69,5.36,6.03,6.7,7.37,8.04,8.71,9.38,10.05,10.72,11.39,12.06,12.73,13.4,14.07,14.74,15.41,16.08,16.75,17.42,18.09,18.76,19.43,20.1,20.77,21.44,22.11,22.78,23.45,24.12,24.79,25.46,26.13,26.8,27.47,28.14,28.81,29.48,30.15,30.82,31.49,32.16,32.83,33.5,34.17,34.84,35.51,36.18,36.85,37.52,38.19,38.86,39.53,40.2,40.87,41.54,42.21,42.88,43.55,44.22,44.89,45.56,46.23,46.9,47.57,48.24,48.91,49.58,50.25,50.92,51.59,52.26,52.93,53.6,54.27,54.94,55.61,56.28,56.95,57.62,58.29,58.96,59.63,60.3,60.97,61.64,62.31,62.98,63.65,64.32,64.99,65.66,66.33,67,67.67,68.34,69.01,69.68,70.35,71.02,71.69,72.36,73.03,73.7,74.37,75.04,75.71,76.38,77.05,77.72,78.39,79.06,79.73,80.4],
 "v":[0.1214,0.1048,0.102,0.086,0.0805,0.0717,0.0822,0.0801,0.0597,0.0649,0.054,0.047,0.0419,0.0474,0.045,0.0474,0.0454,0.036,0.0376,0.0296,0.0407,0.0435,0.0407,0.034,0.0252,0.0364,0.027,0.0272,0.0279,0.0286,0.0293,0.013,0.0122,0.013,0.0133,0.0138,0.0149,0.011,0.015,0.008,0.006,0.005,0.006,0.005,0.004,0.0176,0.0186,0.006,0.005,0.0196,0.004,0.003,0.004,0.003,0.003,0.004,0.003,0.003,0.003,0.004,0.003,0.01,0.004,0.003,0.003,0.003,0.003,0.003,0.003,0.0098,0.003,0.003,0.003,0.003,0.003,0.003,0.003,0.003,0.003,0.011,0.011,0.003,0.003,0.003,0.003,0.003,0.003,0.0051,0.002,0.002,0.002,0.002,0.002,0.002,0.002,0.002,0.002,0.002,0.002,0.002,0.001,0.001,0.001,0.001,0.001,0.001,0.001,0.001,0.001,0.001,0.001,0.001,0.001,0.001,0.001,0.001,0.001,0.001,0.001,0.001]},
{"e":39,"t":[0.67,1.34,2.01,2.68,3.35,4.02,4.69,5.36,6.03,6.7,7.37,8.04,8.71,9.38,10.05,10.72,11.39,12.06,12.73,13.4,14.07,14.74,15.41,16.08,16.75,17.42,18.09,18.76,19.43,20.1,20.77,21.44,22.11,22.78,23.45,24.12,24.79,25.46,26.13,26.8,27.47,28.14,28.81,29.48,30.15,30.82,31.49,32.16,32.83,33.5,34.17,34.84,35.51,36.18,36.85,37.52,38.19,38.86,39.53,40.2,40.87,41.54,42.21,42.88,43.55,44.22,44.89,45.56,46.23,46.9,47.57,48.24,48.91,49.58,50.25,50.92,51.59,52.26,52.93,53.6,54.27,54.94,55.61,56.28,56.95,57.62,58.29,58.96,59.63,60.3,60.97,61.64,62.31,62.98,63.65,64.32,64.99,65.66,66.33,67,67.67,68.34,69.01,69.68,70.35,71.02,71.69,72.36,73.03,73.7,74.37,75.04,75.71,76.38,77.05,77.72,78.39,79.06,79.73,80.4],
 "v":[0.075,0.04,0.025,0.018,0.015,0.012,0.01,0.009,0.008,0.007,0.006,0.006,0.005,0.005,0.004,0.004,0.004,0.003,0.003,0.003,0.003,0.003,0.003,0.003,0.003,0.003,0.003,0.003,0.003,0.003,0.003,0.003,0.003,0.003,0.003,0.003,0.003,0.003,0.003,0.003,0.002,0.002,0.002,0.002,0.002,0.002,0.002,0.002,0.002,0.002,0.002,0.002,0.002,0.002,0.002,0.002,0.002,0.002,0.002,0.002,0.002,0.002,0.002,0.002,0.002,0.002,0.002,0.002,0.002,0.002,0.001,0.001,0.001,0.001,0.001,0.001,0.001,0.001,0.001,0.001,0.001,0.001,0.001,0.001,0.001,0.001,0.001,0.001,0.001,0.001,0.001,0.001,0.001,0.001,0.001,0.001,0.001,0.001,0.001,0.001,0.001,0.001,0.001,0.001,0.001,0.001,0.001,0.001,0.001,0.001,0.001,0.001,0.001,0.001,0.001,0.001,0.001,0.001,0.001,0.001]},
{"e":40,"t":[0.67,1.34,2.01,2.68,3.35,4.02,4.69,5.36,6.03,6.7,7.37,8.04,8.71,9.38,10.05,10.72,11.39,12.06,12.73,13.4,14.07,14.74,15.41,16.08,16.75,17.42,18.09,18.76,19.43,20.1,20.77,21.44,22.11,22.78,23.45,24.12,24.79,25.46,26.13,26.8,27.47,28.14,28.81,29.48,30.15,30.82,31.49,32.16,32.83,33.5,34.17,34.84,35.51,36.18,36.85,37.52,38.19,38.86,39.53,40.2,40.87,41.54,42.21,42.88,43.55,44.22,44.89,45.56,46.23,46.9,47.57,48.24,48.91,49.58,50.25,50.92,51.59,52.26,52.93,53.6,54.27,54.94,55.61,56.28,56.95,57.62,58.29,58.96,59.63,60.3,60.97,61.64,62.31,62.98,63.65,64.32,64.99,65.66,66.33,67,67.67,68.34,69.01,69.68,70.35,71.02,71.69,72.36,73.03,73.7,74.37,75.04,75.71,76.38,77.05,77.72,78.39,79.06,79.73,80.4],
 "v":[0.035,0.015,0.006,0.003,0.001,0,0,0,0,0,0,0,0,0,0,0,0,0,0,0,0,0,0,0,0,0,0,0,0,0,0,0,0,0,0,0,0,0,0,0,0,0,0,0,0,0,0,0,0,0,0,0,0,0,0,0,0,0,0,0,0,0,0,0,0,0,0,0,0,0,0,0,0,0,0,0,0,0,0,0,0,0,0,0,0,0,0,0,0,0,0,0,0,0,0,0,0,0,0,0,0,0,0,0,0,0,0,0,0,0,0,0,0,0,0,0,0,0,0,0]}
],
"mean": [
{"t":[0.67,1.34,2.01,2.68,3.35,4.02,4.69,5.36,6.03,6.7,7.37,8.04,8.71,9.38,10.05,10.72,11.39,12.06,12.73,13.4,14.07,14.74,15.41,16.08,16.75,17.42,18.09,18.76,19.43,20.1,20.77,21.44,22.11,22.78,23.45,24.12,24.79,25.46,26.13,26.8,27.47,28.14,28.81,29.48,30.15,30.82,31.49,32.16,32.83,33.5,34.17,34.84,35.51,36.18,36.85,37.52,38.19,38.86,39.53,40.2,40.87,41.54,42.21,42.88,43.55,44.22,44.89,45.56,46.23,46.9,47.57,48.24,48.91,49.58,50.25,50.92,51.59,52.26,52.93,53.6,54.27,54.94,55.61,56.28,56.95,57.62,58.29,58.96,59.63,60.3,60.97,61.64,62.31,62.98,63.65,64.32,64.99,65.66,66.33,67,67.67,68.34,69.01,69.68,70.35,71.02,71.69,72.36,73.03,73.7,74.37,75.04,75.71,76.38,77.05,77.72,78.39,79.06,79.73,80.4],
 "m":[0.0615,0.0386,0.0292,0.0225,0.0186,0.0163,0.0149,0.0137,0.0118,0.011,0.0098,0.0094,0.0086,0.0084,0.0077,0.0077,0.0073,0.0065,0.0057,0.0053,0.0057,0.0053,0.0051,0.0045,0.0047,0.0041,0.0041,0.0039,0.0039,0.0041,0.0039,0.0034,0.0034,0.0026,0.0026,0.0026,0.0026,0.0024,0.0026,0.0024,0.002,0.0018,0.0026,0.0026,0.0022,0.0026,0.0024,0.0022,0.002,0.0026,0.0022,0.0022,0.0016,0.0022,0.0016,0.0022,0.0016,0.0016,0.0026,0.0014,0.0016,0.0016,0.0018,0.0014,0.0022,0.0014,0.0014,0.0012,0.0014,0.0014,0.0012,0.0014,0.0012,0.0012,0.0014,0.0012,0.0012,0.0014,0.0012,0.0012,0.0012,0.001,0.0012,0.0012,0.0014,0.001,0.001,0.0012,0.001,0.001,0.0008,0.0008,0.0012,0.001,0.001,0.0008,0.001,0.0008,0.0008,0.0008,0.0006,0.0006,0.001,0.0006,0.0006,0.0006,0.0005,0.0005,0.0005,0.0005,0.0006,0.0005,0.0004,0.0004,0.0004,0.00021,0.0004,0.0004,0.0005,0.0004],
 "hi":[0.1029,0.0705,0.058,0.0473,0.0413,0.038,0.0359,0.0341,0.0301,0.0295,0.0262,0.0255,0.0256,0.022,0.0225,0.021,0.0207,0.0196,0.0164,0.0155,0.0178,0.0164,0.014,0.0137,0.0137,0.0135,0.0135,0.0116,0.0139,0.013,0.012,0.0104,0.0104,0.0096,0.0096,0.0096,0.0094,0.0098,0.0098,0.0094,0.0078,0.008,0.0104,0.0104,0.008,0.011,0.0096,0.0068,0.0096,0.0098,0.009,0.008,0.006,0.0098,0.006,0.0096,0.0064,0.0064,0.0107,0.0062,0.0066,0.0068,0.0072,0.0062,0.0106,0.0062,0.0066,0.0064,0.0066,0.0068,0.0058,0.0068,0.0066,0.0062,0.0068,0.0064,0.0062,0.0068,0.0076,0.0064,0.0068,0.0062,0.0054,0.0078,0.0072,0.0066,0.0064,0.0083,0.0083,0.0066,0.0074,0.0084,0.0084,0.0066,0.0066,0.0036,0.0084,0.0026,0.0024,0.0018,0.0016,0.0018,0.0084,0.0016,0.0014,0.0014,0.0014,0.0016,0.0014,0.0014,0.0036,0.0026,0.0014,0.0012,0.0012,0.0006,0.0012,0.0012,0.0013,0.0012],
 "lo":[0.0201,0.0067,0.0004,-0.0023,-0.0041,-0.0054,-0.0061,-0.0067,-0.0065,-0.0075,-0.0066,-0.0067,-0.0084,-0.0052,-0.0071,-0.0056,-0.0061,-0.0066,-0.005,-0.0049,-0.0064,-0.0058,-0.0038,-0.0047,-0.0043,-0.0053,-0.0053,-0.0038,-0.0061,-0.0048,-0.0042,-0.0036,-0.0036,-0.0044,-0.0044,-0.0044,-0.0042,-0.005,-0.0046,-0.0046,-0.0038,-0.0044,-0.0052,-0.0052,-0.0036,-0.0058,-0.0048,-0.0024,-0.0056,-0.0046,-0.0046,-0.0036,-0.0028,-0.0054,-0.0028,-0.0052,-0.0032,-0.0032,-0.0055,-0.0034,-0.0034,-0.0036,-0.0036,-0.0034,-0.0062,-0.0034,-0.0038,-0.004,-0.0038,-0.004,-0.0034,-0.004,-0.0042,-0.0038,-0.004,-0.004,-0.0038,-0.004,-0.0052,-0.004,-0.0044,-0.0042,-0.003,-0.0054,-0.0044,-0.0046,-0.0044,-0.0059,-0.0063,-0.0046,-0.0058,-0.0068,-0.006,-0.0046,-0.0046,-0.002,-0.0064,-0.001,-0.0008,-0.0002,-0.0004,-0.0006,-0.0064,-0.0004,-0.0002,-0.0002,-0.0004,-0.0006,-0.0004,-0.0004,-0.0024,-0.0016,-0.0006,-0.0004,-0.0004,-0.0002,-0.0004,-0.0004,-0.0003,-0.0004]}
]
},
"layer": [
{"data": {"name": "ecg"}, "transform": [{"flatten": ["t", "v"]}],
 "mark": {"type": "line", "strokeWidth": 5, "strokeOpacity": 0.35},
 "encoding": {
  "x": {"field": "t", "type": "quantitative", "scale": {"domain": [-3.41, 84.37], "nice": false, "zero": false}, "axis": {"values": [0,10,20,30,40,50,60,70,80], "format": "d", "title": "Time / s", "labelPadding": 15, "titlePadding": 46}},
  "y": {"field": "v", "type": "quantitative", "scale": {"domain": [-0.0155, 0.1488], "nice": false, "zero": false}, "axis": {"values": [0,0.02,0.04,0.06,0.08,0.1,0.12,0.14], "format": ".2f", "title": "Equal Error Rate", "labelPadding": 8, "titlePadding": 40}},
  "color": {"field": "e", "type": "quantitative",
   "scale": {"domain": [40, 35.125, 25.375, 20.5, 15.625, 5.875, 1], "range": ["#b87070", "#ff7070", "#ffff70", "#b8ffb8", "#70ffff", "#7070ff", "#7070b8"], "interpolate": "rgb"},
   "legend": {"type": "gradient", "orient": "none", "legendX": 2802, "legendY": 52, "direction": "vertical", "gradientLength": 1464, "gradientThickness": 39, "gradientStrokeWidth": 0, "padding": 0,
     "values": [2.35, 13.57, 28.07, 39.27],
     "labelExpr": "datum.value < 5 ? 'ECG 1' : datum.value < 20 ? 'ECG 10' : datum.value < 30 ? 'ECG 20' : 'ECG 40'",
     "labelFont": "DejaVu Sans", "labelFontSize": 58, "labelColor": "black", "labelOffset": 21, "labelOverlap": false, "labelLimit": 600,
     "title": "Predicted class EER", "titleOrient": "right", "titleAngle": 90, "titleFont": "Open Sans", "titleFontSize": 90, "titleFontWeight": "normal", "titleColor": "black", "titleAnchor": "middle", "titlePadding": 70, "titleLimit": 3000,
     "encode": {"gradient": {"update": {"opacity": {"value": 1}, "fillOpacity": {"value": 1}}}}}},
  "detail": {"field": "e", "type": "nominal"}
 }},
{"data": {"name": "ecg"}, "transform": [{"flatten": ["t", "v"]}],
 "mark": {"type": "point", "filled": false, "size": 40, "strokeWidth": 7, "strokeOpacity": 0.35},
 "encoding": {
  "x": {"field": "t", "type": "quantitative"},
  "y": {"field": "v", "type": "quantitative"},
  "color": {"field": "e", "type": "quantitative"}
 }},
{"data": {"name": "mean"}, "transform": [{"flatten": ["t", "m", "lo", "hi"]}],
 "mark": {"type": "rule", "color": "#cd5c5c", "strokeWidth": 2.5, "opacity": 0.8},
 "encoding": {"x": {"field": "t", "type": "quantitative"}, "y": {"field": "lo", "type": "quantitative"}, "y2": {"field": "hi"}}},
{"data": {"name": "mean"}, "transform": [{"flatten": ["t", "m", "lo", "hi"]}],
 "mark": {"type": "tick", "orient": "horizontal", "size": 48, "thickness": 4, "color": "#cd5c5c", "opacity": 0.85},
 "encoding": {"x": {"field": "t", "type": "quantitative"}, "y": {"field": "hi", "type": "quantitative"}}},
{"data": {"name": "mean"}, "transform": [{"flatten": ["t", "m", "lo", "hi"]}],
 "mark": {"type": "tick", "orient": "horizontal", "size": 48, "thickness": 4, "color": "#cd5c5c", "opacity": 0.85},
 "encoding": {"x": {"field": "t", "type": "quantitative"}, "y": {"field": "lo", "type": "quantitative"}}},
{"data": {"name": "mean"}, "transform": [{"flatten": ["t", "m", "lo", "hi"]}],
 "mark": {"type": "line", "color": "#cd5c5c", "strokeWidth": 6},
 "encoding": {"x": {"field": "t", "type": "quantitative"}, "y": {"field": "m", "type": "quantitative"}}},
{"data": {"name": "mean"}, "transform": [{"flatten": ["t", "m", "lo", "hi"]}],
 "mark": {"type": "point", "filled": true, "size": 320, "opacity": 1},
 "encoding": {"x": {"field": "t", "type": "quantitative"}, "y": {"field": "m", "type": "quantitative"},
  "fill": {"datum": "Mean EER", "type": "nominal", "scale": {"range": ["#cd5c5c"]},
   "legend": {"orient": "none", "legendX": 2749, "legendY": 1613, "title": null, "padding": 0,
    "symbolType": "M-1,0L1,0M-0.14,0A0.14,0.14,0,1,1,0.14,0A0.14,0.14,0,1,1,-0.14,0Z",
    "symbolSize": 24964, "symbolStrokeColor": "#cd5c5c", "symbolStrokeWidth": 6, "symbolFillColor": "#cd5c5c", "symbolOpacity": 1,
    "labelFont": "DejaVu Sans", "labelFontSize": 58, "labelColor": "black", "labelOffset": 34, "labelLimit": 600}}}},
{"data": {"values": [{}]}, "mark": {"type": "point", "filled": true, "color": "#ff0000", "size": 1000, "opacity": 1},
 "encoding": {"x": {"datum": 77.72, "type": "quantitative"}, "y": {"datum": 0.00021, "type": "quantitative"}}},
{"data": {"values": [{}]}, "mark": {"type": "rule", "color": "#a48484", "strokeWidth": 3.5},
 "encoding": {"x": {"datum": 60, "type": "quantitative"}, "y": {"datum": 0.0679, "type": "quantitative"}, "x2": {"datum": 77.27}, "y2": {"datum": 0.00198}}},
{"data": {"values": [{}]}, "mark": {"type": "point", "shape": "M-0.42,-1L0,0L0.42,-1", "angle": 323.5, "size": 1384, "filled": false, "color": "#a48484", "strokeWidth": 3.5, "opacity": 1},
 "encoding": {"x": {"datum": 77.27, "type": "quantitative"}, "y": {"datum": 0.00198, "type": "quantitative"}}},
{"data": {"values": [{}]}, "mark": {"type": "text", "text": "Min mean EER: 0.021%", "align": "left", "baseline": "alphabetic", "font": "DejaVu Sans", "fontSize": 76, "color": "black"},
 "encoding": {"x": {"datum": 38.4, "type": "quantitative"}, "y": {"datum": 0.081, "type": "quantitative"}}},
{"data": {"values": [{}]}, "mark": {"type": "text", "text": "Time: 78s", "align": "left", "baseline": "alphabetic", "font": "DejaVu Sans", "fontSize": 76, "color": "black"},
 "encoding": {"x": {"datum": 38.4, "type": "quantitative"}, "y": {"datum": 0.0721, "type": "quantitative"}}},
{"data": {"values": [{}]}, "mark": {"type": "text", "text": "(a)", "align": "right", "baseline": "alphabetic", "font": "Liberation Serif", "fontWeight": "bold", "fontSize": 76, "color": "black"},
 "encoding": {"x": {"datum": 43.26, "type": "quantitative"}, "y": {"datum": -0.0488, "type": "quantitative"}}},
{"data": {"values": [{}]}, "mark": {"type": "text", "text": "RNN", "align": "left", "baseline": "alphabetic", "font": "Liberation Serif", "fontSize": 78, "color": "#1b75bb"},
 "encoding": {"x": {"datum": 44.13, "type": "quantitative"}, "y": {"datum": -0.0488, "type": "quantitative"}}}
]
}
